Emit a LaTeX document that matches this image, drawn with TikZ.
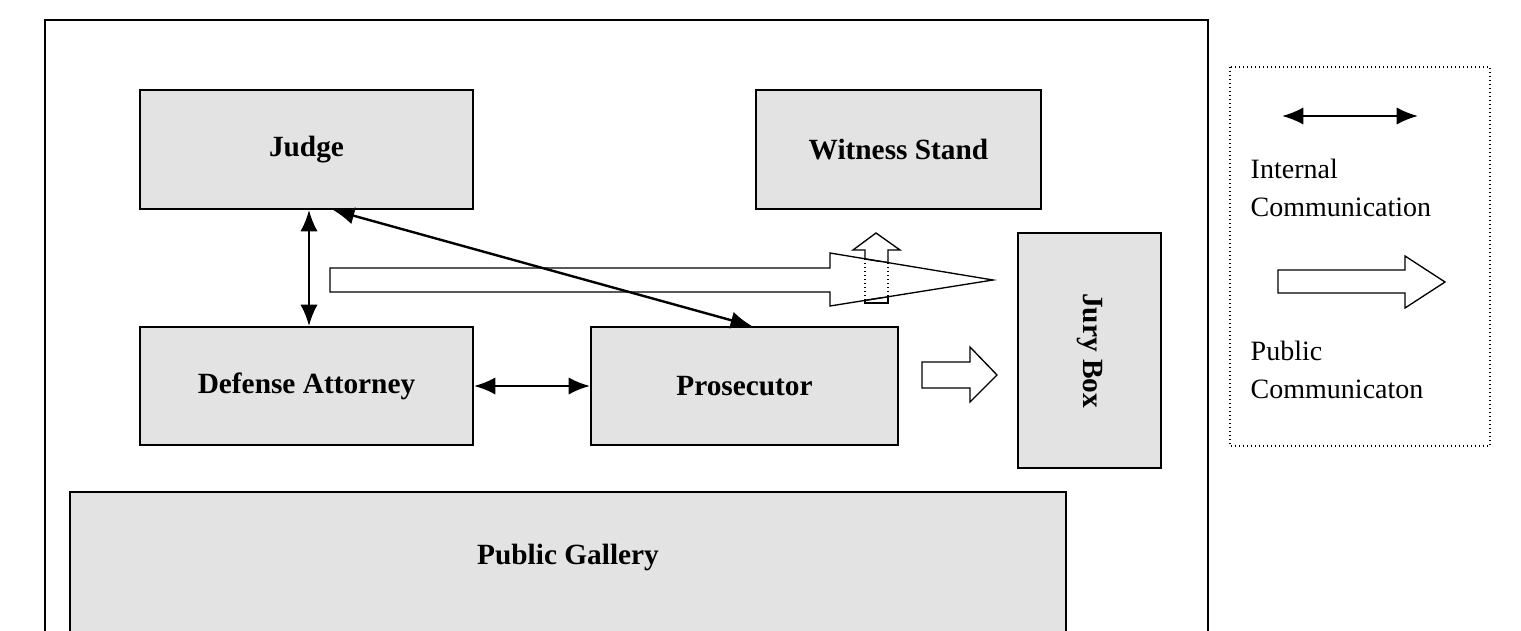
\documentclass[tikz,border=0pt]{standalone}
\usepackage{fontspec}
\setmainfont{Liberation Serif}
\usetikzlibrary{arrows.meta}
\begin{document}
\begin{tikzpicture}[x=0.75pt,y=-0.75pt,
  btxt/.style={font=\bfseries\fontsize{22}{26}\selectfont},
  box/.style={draw,line width=1.5pt,fill=gray!22,btxt},
  dbl/.style={line width=1.8pt,{Latex[length=16pt,width=13pt]}-{Latex[length=16pt,width=13pt]}},
  hol/.style={draw,line width=1pt,fill=white},
  lg/.style={font=\fontsize{21}{28}\selectfont,align=left,anchor=west}]
\useasboundingbox (0,0) rectangle (1521,631);
\draw[line width=1pt] (45,631) -- (45,20) -- (1208,20) -- (1208,631);
\node[box,minimum width=333*0.75pt,minimum height=119*0.75pt] (judge) at (306.5,149.5) {Judge};
\node[box,minimum width=285*0.75pt,minimum height=119*0.75pt] (wit) at (898.5,149.5) {Witness Stand};
\node[box,minimum width=333*0.75pt,minimum height=118*0.75pt] (def) at (306.5,386) {Defense Attorney};
\node[box,minimum width=307*0.75pt,minimum height=118*0.75pt] (pro) at (744.5,386) {Prosecutor};
\node[box,minimum width=143*0.75pt,minimum height=235*0.75pt] (jury) at (1089.5,350.5) {};
\node[btxt,rotate=-90] (jt) at (jury.center) {Jury Box};
\node[box,minimum width=996*0.75pt,minimum height=150*0.75pt] (pub) at (568,567) {};
\node[btxt] (pt) at (568,557) {Public Gallery};
% small up arrow fill
\fill[white] (865,303) -- (865,250) -- (853,250) -- (876,233) -- (900,250) -- (888,250) -- (888,303) -- cycle;
% big hollow arrow
\path[hol] (330,268) -- (830,268) -- (830,253) -- (993,280) -- (830,306) -- (830,292) -- (330,292) -- cycle;
\fill[white] (866,262) rectangle (887,297);
\draw[line width=1pt] (865,258.8) -- (865,250) -- (853,250) -- (876,233) -- (900,250) -- (888,250) -- (888,262.6);
\draw[line width=1pt] (865,300.4) -- (865,303) -- (888,303) -- (888,296.7);
\draw[line width=1pt] (865,259) -- (888,262.6) (865,300.4) -- (888,296.7);
\draw[dotted,line width=1pt] (865,259) -- (865,300) (888,263) -- (888,297);
% prosecutor to jury
\path[hol] (922,362) -- (970,362) -- (970,347) -- (997,375) -- (970,402) -- (970,388) -- (922,388) -- cycle;
\draw[dbl] (judge.south -| 309,0) -- (def.north -| 309,0);
\draw[dbl] (def.east) -- (pro.west);
\coordinate (a) at (333,210);
\coordinate (b) at (752,326);
\draw[dbl] (a) -- (b);
% legend
\draw[dotted,line width=1pt] (1230,67) rectangle (1490,446);
\coordinate (l1) at (1282,116);
\coordinate (l2) at (1418,116);
\draw[dbl] (l1) -- (l2);
\node[lg] (t1) at (1246,188) {Internal\\Communication};
\path[hol] (1278,270) -- (1405,270) -- (1405,256) -- (1445,282) -- (1405,308) -- (1405,293) -- (1278,293) -- cycle;
\node[lg] (t2) at (1246,370) {Public\\Communicaton};
\end{tikzpicture}
\end{document}
